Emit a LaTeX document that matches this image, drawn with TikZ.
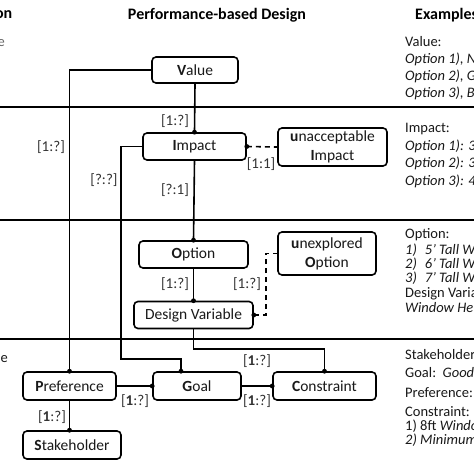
\documentclass[tikz,border=0pt]{standalone}
\usepackage{fontspec}
\setmainfont{Carlito}
\newcommand\myNodeFont{\fontsize{15.5}{19}\selectfont}
\newcommand\myLabFont{\fontsize{15}{16}\selectfont}
\newcommand\myTxtFont{\fontsize{14.5}{16}\selectfont}
\newcommand\myHeadFont{\fontsize{16}{18}\selectfont\bfseries}
\begin{document}
\begin{tikzpicture}[x=1pt,y=-1pt,
  box/.style={draw, line width=1.6pt, rounded corners=4pt, inner sep=0pt, font=\myNodeFont, align=center, text=black!90},
  lab/.style={font=\myLabFont, inner sep=0pt, text=black!80},
  txt/.style={anchor=west, font=\myTxtFont, inner sep=0pt, text=black!90},
  hd/.style={font=\myHeadFont, inner sep=0pt, text=black},
  conn/.style={line width=1.6pt},
  dsh/.style={line width=1.6pt, dash pattern=on 5pt off 4pt},
  sepline/.style={line width=2pt},
  dotc/.style={fill=black}
]
\useasboundingbox (0,0) rectangle (474,474);
\clip (0,0) rectangle (474,474);
\fill[white] (0,0) rectangle (474,474);

% separators
\coordinate (L1) at (0,107); \coordinate (R1) at (474,107);
\coordinate (L2) at (0,220); \coordinate (R2) at (474,220);
\coordinate (L3) at (0,339); \coordinate (R3) at (474,339);
\draw[sepline] (L1) -- (R1);
\draw[sepline] (L2) -- (R2);
\draw[sepline] (L3) -- (R3);

% headers
\node[hd, anchor=east] (h1) at (12.5,15) {on};
\node[hd] (h2) at (217,15) {Performance-based Design};
\node[hd, anchor=west] (h3) at (415,15) {Examples};
\node[txt, anchor=east, text=black!60] (e1) at (5,43) {e};
\node[txt] (e2) at (0.5,359) {e};

% nodes
\node[box, minimum width=86pt, minimum height=26pt] (Val) at (195,70) {\textbf{V}alue};
\node[box, minimum width=103pt, minimum height=27pt] (Imp) at (194.5,146.5) {\textbf{I}mpact};
\node[box, minimum width=109pt, minimum height=38pt] (uI) at (332.5,147) {\textbf{u}nacceptable\\\textbf{I}mpact};
\node[box, minimum width=109pt, minimum height=27pt] (Opt) at (193.5,254.5) {\textbf{O}ption};
\node[box, minimum width=98pt, minimum height=43pt] (uO) at (327,253.5) {\textbf{u}nexplored\\\textbf{O}ption};
\node[box, minimum width=119pt, minimum height=27pt] (DV) at (193.5,315) {Design Variable};
\node[box, minimum width=93pt, minimum height=28pt] (Pref) at (69.5,386) {\textbf{P}reference};
\node[box, minimum width=88pt, minimum height=28pt] (Goal) at (197,386) {\textbf{G}oal};
\node[box, minimum width=103pt, minimum height=28pt] (Con) at (324.5,386) {\textbf{C}onstraint};
\node[box, minimum width=98pt, minimum height=28pt] (Stk) at (72,445) {\textbf{S}takeholder};

% helper coordinates
\coordinate (k1) at (121,359);
\coordinate (g1) at ([xshift=-16pt]Goal.north);
\coordinate (k2) at (260,349);
\coordinate (k3) at (266,285);

% connectors
\draw[conn] (Val.south) -- (Imp.north);
\draw[conn] (Val.west) -| (Pref.north);
\draw[conn] (Imp.west) -| (k1) -| (g1);
\draw[conn] (Imp.south) -- (Opt.north);
\draw[dsh] (Imp.east) -- (uI.west);
\draw[conn] (Opt.south) -- (DV.north);
\draw[dsh] (DV.east) -| (k3) |- (uO.west);
\draw[conn] (DV.south) |- (k2) -| (Con.north);
\draw[conn] (Pref.east) -- (Goal.west);
\draw[conn] (Goal.east) -- (Con.west);
\draw[conn] (Pref.south) -- (Pref.south |- Stk.north);

% dots
\foreach \p in {Imp.north, Opt.north, DV.north, Pref.north, Goal.west, Con.north, Con.west, Imp.east, DV.east}
  \fill[dotc] (\p) circle (2.4pt);
\fill[dotc] (g1) circle (2.4pt);
\fill[dotc] (Pref.south |- Stk.north) circle (2.4pt);

% labels
\node[lab] (l1) at (175,121) {[1:?]};
\node[lab] (l2) at (51,147) {[1:?]};
\node[lab] (l3) at (104,180) {[?:?]};
\node[lab] (l4) at (175,190) {[?:1]};
\node[lab] (l5) at (261,164) {[1:1]};
\node[lab] (l6) at (175,284) {[1:?]};
\node[lab] (l7) at (247,284) {[1:?]};
\node[lab] (l8) at (257,361) {[\textbf{1}:?]};
\node[lab] (l9) at (257,401) {[\textbf{1}:?]};
\node[lab] (l10) at (135,401) {[\textbf{1}:?]};
\node[lab] (l11) at (52,417) {[\textbf{1}:?]};

% right column
\node[txt] (t1) at (405,42) {Value:};
\node[txt] (t2) at (405,59) {\itshape Option 1), N};
\node[txt] (t3) at (405,76) {\itshape Option 2), G};
\node[txt] (t4) at (405,93) {\itshape Option 3), B};
\node[txt] (t5) at (405,129) {Impact:};
\node[txt] (t6) at (405,146) {\itshape Option 1): 3};
\node[txt] (t7) at (405,163) {\itshape Option 2): 3};
\node[txt] (t8) at (405,181) {\itshape Option 3): 4};
\node[txt] (t9) at (405,235) {Option:};
\node[txt] (t10) at (405,250) {\itshape 1)\hspace{8pt}5’ Tall W};
\node[txt] (t11) at (405,264) {\itshape 2)\hspace{8pt}6’ Tall W};
\node[txt] (t12) at (405,278) {\itshape 3)\hspace{8pt}7’ Tall W};
\node[txt] (t13) at (405,294) {Design Varia};
\node[txt] (t14) at (405,308) {\itshape Window He};
\node[txt] (t15) at (405,355) {Stakeholder};
\node[txt] (t16) at (405,373) {Goal:\ \ \textit{Good}};
\node[txt] (t17) at (405,393) {Preference:};
\node[txt] (t18) at (405,412) {Constraint:};
\node[txt] (t19) at (405,426) {1) 8ft \textit{Windo}};
\node[txt] (t20) at (405,440) {\itshape 2) Minimum};
\end{tikzpicture}
\end{document}
